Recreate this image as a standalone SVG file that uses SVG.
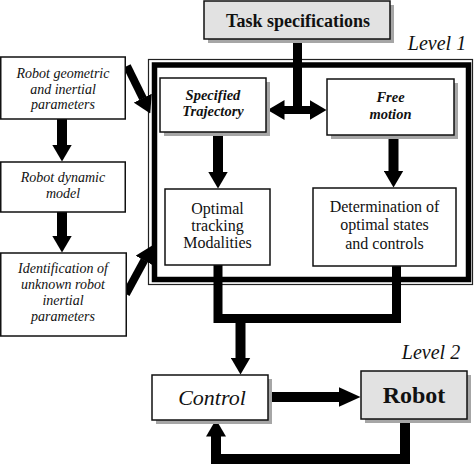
<svg xmlns="http://www.w3.org/2000/svg" width="474" height="464" viewBox="0 0 474 464" font-family="'Liberation Serif', Tinos, 'DejaVu Serif', serif">
<style>
.box{fill:#fff;stroke:#111;stroke-width:1.5}
.gray{fill:#e2e2e2;stroke:#111;stroke-width:1.5}
.shadow{fill:#a6a6a6}
.t{font-family:'Liberation Serif',Tinos,'DejaVu Serif',serif;fill:#111;text-anchor:middle}
.it{font-style:italic}
.bd{font-weight:bold}
.c{fill:none;stroke:#000}
</style>
<defs>
<marker id="head" markerUnits="userSpaceOnUse" viewBox="0 0 17 20" markerWidth="17" markerHeight="20" refX="0.5" refY="10" orient="auto-start-reverse"><path d="M0,0 L17,10 L0,20 z" fill="#000"/></marker>
<marker id="headLong" markerUnits="userSpaceOnUse" viewBox="0 0 22 20" markerWidth="22" markerHeight="20" refX="0.5" refY="10" orient="auto"><path d="M0,0 L22,10 L0,20 z" fill="#000"/></marker>
</defs>

<g id="level1-frame">
<rect x="148.5" y="59.5" width="324" height="225" fill="none" stroke="#222" stroke-width="1.2"/>
<rect x="154.5" y="65" width="314" height="214.5" fill="none" stroke="#000" stroke-width="5.5"/>
</g>
<text class="t it" x="437" y="50" font-size="20">Level 1</text>
<text class="t it" x="431" y="359" font-size="20">Level 2</text>

<g id="connectors">
<line class="c" x1="127" y1="66" x2="143" y2="98.6" stroke-width="8" marker-end="url(#head)"/>
<line class="c" x1="126" y1="294" x2="144.4" y2="260.1" stroke-width="8" marker-end="url(#head)"/>
<line class="c" x1="62" y1="119" x2="62" y2="145" stroke-width="10" marker-end="url(#head)"/>
<line class="c" x1="62" y1="212" x2="62" y2="236" stroke-width="10" marker-end="url(#head)"/>
<line class="c" x1="297.5" y1="39" x2="297.5" y2="113" stroke-width="9"/>
<line class="c" x1="284" y1="110" x2="310" y2="110" stroke-width="8" marker-start="url(#head)" marker-end="url(#head)"/>
<line class="c" x1="218" y1="132" x2="218" y2="172" stroke-width="10" marker-end="url(#head)"/>
<line class="c" x1="393.5" y1="135" x2="393.5" y2="171" stroke-width="10" marker-end="url(#head)"/>
<path class="c" d="M218,265 V318.5 H396.5 V266" stroke-width="9"/>
<line class="c" x1="240.5" y1="318" x2="240.5" y2="358" stroke-width="10" marker-end="url(#head)"/>
<line class="c" x1="268" y1="397" x2="339" y2="397" stroke-width="10" marker-end="url(#headLong)"/>
<path class="c" d="M405,419 V459 H216 V436" stroke-width="10" marker-end="url(#head)"/>
</g>

<g id="task-specifications">
<rect class="shadow" x="208" y="5" width="186" height="38"/>
<rect class="gray" x="204" y="1" width="186" height="38"/>
<text class="t bd" x="298" y="27" font-size="18">Task specifications</text>
</g>

<g id="specified-trajectory">
<rect class="shadow" x="164" y="82" width="106" height="54"/>
<rect class="box" x="160" y="78" width="106" height="54"/>
<text class="t bd it" x="213" y="100" font-size="14.5">Specified</text>
<text class="t bd it" x="213" y="116" font-size="14.5">Trajectory</text>
</g>

<g id="free-motion">
<rect class="shadow" x="331" y="83" width="127" height="56"/>
<rect class="box" x="327" y="79" width="127" height="56"/>
<text class="t bd it" x="390.5" y="102" font-size="14.5">Free</text>
<text class="t bd it" x="390.5" y="119" font-size="14.5">motion</text>
</g>

<g id="optimal-tracking">
<rect class="box" x="165" y="189" width="105" height="76"/>
<text class="t" x="217.5" y="214" font-size="16">Optimal</text>
<text class="t" x="217.5" y="231" font-size="16">tracking</text>
<text class="t" x="217.5" y="248" font-size="16">Modalities</text>
</g>

<g id="determination">
<rect class="box" x="313" y="188" width="143" height="78"/>
<text class="t" x="384.5" y="212" font-size="16">Determination of</text>
<text class="t" x="384.5" y="230" font-size="16">optimal states</text>
<text class="t" x="384.5" y="249" font-size="16">and controls</text>
</g>

<g id="robot-geometric">
<rect class="box" x="0.75" y="57" width="124.5" height="62"/>
<text class="t it" x="63" y="78" font-size="14">Robot geometric</text>
<text class="t it" x="63" y="94" font-size="14">and inertial</text>
<text class="t it" x="63" y="109" font-size="14">parameters</text>
</g>

<g id="robot-dynamic-model">
<rect class="box" x="0.75" y="162" width="124.5" height="50"/>
<text class="t it" x="63" y="182" font-size="14">Robot dynamic</text>
<text class="t it" x="63" y="198" font-size="14">model</text>
</g>

<g id="identification">
<rect class="box" x="0.75" y="253" width="125.5" height="83"/>
<text class="t it" x="63" y="273" font-size="14">Identification of</text>
<text class="t it" x="63" y="289" font-size="14">unknown robot</text>
<text class="t it" x="63" y="305" font-size="14">inertial</text>
<text class="t it" x="63" y="321" font-size="14">parameters</text>
</g>

<g id="control">
<rect class="shadow" x="156" y="379" width="116" height="45"/>
<rect class="box" x="152" y="375" width="116" height="45"/>
<text class="t it" x="212" y="405" font-size="22">Control</text>
</g>

<g id="robot">
<rect class="shadow" x="365" y="375" width="106" height="48"/>
<rect class="gray" x="361" y="371" width="106" height="48"/>
<text class="t bd" x="414" y="403" font-size="24">Robot</text>
</g>
</svg>
